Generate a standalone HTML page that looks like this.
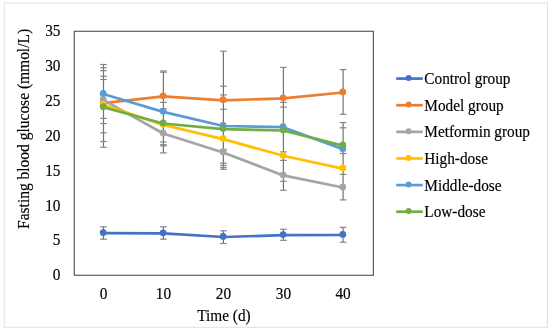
<!DOCTYPE html><html><head><meta charset="utf-8"><style>html,body{margin:0;padding:0;background:#fff;}svg{display:block;}text{stroke:#000;stroke-width:0.15px;}</style></head><body>
<svg width="550" height="332" viewBox="0 0 550 332" font-family='"Liberation Serif", "Times New Roman", serif' font-size="15.3" fill="#000">
<rect x="0" y="0" width="550" height="332" fill="#fff"/>
<rect x="4.2" y="2.9" width="543.2" height="324.4" fill="none" stroke="#e0e0e0" stroke-width="1"/>
<rect x="74.3" y="31.3" width="299.1" height="244" fill="none" stroke="#5e5e5e" stroke-width="1.2"/>
<text transform="translate(60.5,280.2) scale(1,1.05)" text-anchor="end">0</text>
<text transform="translate(60.5,245.3) scale(1,1.05)" text-anchor="end">5</text>
<text transform="translate(60.5,210.5) scale(1,1.05)" text-anchor="end">10</text>
<text transform="translate(60.5,175.6) scale(1,1.05)" text-anchor="end">15</text>
<text transform="translate(60.5,140.8) scale(1,1.05)" text-anchor="end">20</text>
<text transform="translate(60.5,105.9) scale(1,1.05)" text-anchor="end">25</text>
<text transform="translate(60.5,71.1) scale(1,1.05)" text-anchor="end">30</text>
<text transform="translate(60.5,36.2) scale(1,1.05)" text-anchor="end">35</text>
<text transform="translate(103.5,299.2) scale(1,1.05)" text-anchor="middle">0</text>
<text transform="translate(163.4,299.2) scale(1,1.05)" text-anchor="middle">10</text>
<text transform="translate(223.4,299.2) scale(1,1.05)" text-anchor="middle">20</text>
<text transform="translate(283.4,299.2) scale(1,1.05)" text-anchor="middle">30</text>
<text transform="translate(343.1,299.2) scale(1,1.05)" text-anchor="middle">40</text>
<text transform="translate(224.0,320.6) scale(1,1.05)" text-anchor="middle">Time (d)</text>
<text transform="translate(28.8,128.9) rotate(-90) scale(1,1.05)" text-anchor="middle" font-size="15.5">Fasting blood glucose (mmol/L)</text>
<g stroke="#727272" stroke-width="1.2" fill="none">
<line x1="103.5" y1="64.5" x2="103.5" y2="147.3"/>
<line x1="103.5" y1="226.8" x2="103.5" y2="239.2"/>
<line x1="100.2" y1="64.5" x2="106.8" y2="64.5" stroke="#858585"/>
<line x1="100.2" y1="67.8" x2="106.8" y2="67.8" stroke="#858585"/>
<line x1="100.2" y1="70.6" x2="106.8" y2="70.6" stroke="#858585"/>
<line x1="100.2" y1="76.3" x2="106.8" y2="76.3" stroke="#858585"/>
<line x1="100.2" y1="79.5" x2="106.8" y2="79.5" stroke="#858585"/>
<line x1="100.2" y1="118.4" x2="106.8" y2="118.4" stroke="#858585"/>
<line x1="100.2" y1="123.6" x2="106.8" y2="123.6" stroke="#858585"/>
<line x1="100.2" y1="132.8" x2="106.8" y2="132.8" stroke="#858585"/>
<line x1="100.2" y1="141.5" x2="106.8" y2="141.5" stroke="#858585"/>
<line x1="100.2" y1="147.3" x2="106.8" y2="147.3" stroke="#858585"/>
<line x1="100.2" y1="226.8" x2="106.8" y2="226.8" stroke="#858585"/>
<line x1="100.2" y1="239.2" x2="106.8" y2="239.2" stroke="#858585"/>
<line x1="163.4" y1="71.0" x2="163.4" y2="152.9"/>
<line x1="163.4" y1="226.8" x2="163.4" y2="239.2"/>
<line x1="160.1" y1="71.0" x2="166.7" y2="71.0" stroke="#858585"/>
<line x1="160.1" y1="72.2" x2="166.7" y2="72.2" stroke="#858585"/>
<line x1="160.1" y1="102.4" x2="166.7" y2="102.4" stroke="#858585"/>
<line x1="160.1" y1="108.7" x2="166.7" y2="108.7" stroke="#858585"/>
<line x1="160.1" y1="142.0" x2="166.7" y2="142.0" stroke="#858585"/>
<line x1="160.1" y1="144.7" x2="166.7" y2="144.7" stroke="#858585"/>
<line x1="160.1" y1="145.9" x2="166.7" y2="145.9" stroke="#858585"/>
<line x1="160.1" y1="152.9" x2="166.7" y2="152.9" stroke="#858585"/>
<line x1="160.1" y1="226.8" x2="166.7" y2="226.8" stroke="#858585"/>
<line x1="160.1" y1="239.2" x2="166.7" y2="239.2" stroke="#858585"/>
<line x1="223.4" y1="51.2" x2="223.4" y2="169.3"/>
<line x1="223.4" y1="230.8" x2="223.4" y2="243.5"/>
<line x1="220.1" y1="51.2" x2="226.7" y2="51.2" stroke="#858585"/>
<line x1="220.1" y1="86.2" x2="226.7" y2="86.2" stroke="#858585"/>
<line x1="220.1" y1="94.9" x2="226.7" y2="94.9" stroke="#858585"/>
<line x1="220.1" y1="109.3" x2="226.7" y2="109.3" stroke="#858585"/>
<line x1="220.1" y1="149.4" x2="226.7" y2="149.4" stroke="#858585"/>
<line x1="220.1" y1="163.1" x2="226.7" y2="163.1" stroke="#858585"/>
<line x1="220.1" y1="165.3" x2="226.7" y2="165.3" stroke="#858585"/>
<line x1="220.1" y1="167.5" x2="226.7" y2="167.5" stroke="#858585"/>
<line x1="220.1" y1="169.3" x2="226.7" y2="169.3" stroke="#858585"/>
<line x1="220.1" y1="230.8" x2="226.7" y2="230.8" stroke="#858585"/>
<line x1="220.1" y1="243.5" x2="226.7" y2="243.5" stroke="#858585"/>
<line x1="283.4" y1="67.4" x2="283.4" y2="190.3"/>
<line x1="283.4" y1="229.2" x2="283.4" y2="240.3"/>
<line x1="280.1" y1="67.4" x2="286.7" y2="67.4" stroke="#858585"/>
<line x1="280.1" y1="102.4" x2="286.7" y2="102.4" stroke="#858585"/>
<line x1="280.1" y1="107.1" x2="286.7" y2="107.1" stroke="#858585"/>
<line x1="280.1" y1="151.9" x2="286.7" y2="151.9" stroke="#858585"/>
<line x1="280.1" y1="160.4" x2="286.7" y2="160.4" stroke="#858585"/>
<line x1="280.1" y1="181.3" x2="286.7" y2="181.3" stroke="#858585"/>
<line x1="280.1" y1="190.3" x2="286.7" y2="190.3" stroke="#858585"/>
<line x1="280.1" y1="229.2" x2="286.7" y2="229.2" stroke="#858585"/>
<line x1="280.1" y1="240.3" x2="286.7" y2="240.3" stroke="#858585"/>
<line x1="343.1" y1="69.6" x2="343.1" y2="114.2"/>
<line x1="343.1" y1="122.6" x2="343.1" y2="199.8"/>
<line x1="343.1" y1="227.3" x2="343.1" y2="242.2"/>
<line x1="339.8" y1="69.6" x2="346.4" y2="69.6" stroke="#858585"/>
<line x1="339.8" y1="114.3" x2="346.4" y2="114.3" stroke="#858585"/>
<line x1="339.8" y1="122.5" x2="346.4" y2="122.5" stroke="#858585"/>
<line x1="339.8" y1="127.8" x2="346.4" y2="127.8" stroke="#858585"/>
<line x1="339.8" y1="153.5" x2="346.4" y2="153.5" stroke="#858585"/>
<line x1="339.8" y1="174.4" x2="346.4" y2="174.4" stroke="#858585"/>
<line x1="339.8" y1="199.9" x2="346.4" y2="199.9" stroke="#858585"/>
<line x1="339.8" y1="227.3" x2="346.4" y2="227.3" stroke="#858585"/>
<line x1="339.8" y1="242.2" x2="346.4" y2="242.2" stroke="#858585"/>
</g>
<polyline points="103.3,233.2 163.2,233.4 223.2,237.0 283.2,235.2 342.9,235.0" fill="none" stroke="#4472C4" stroke-width="2.7" stroke-linejoin="round" stroke-linecap="round"/>
<circle cx="103.2" cy="232.6" r="3.4" fill="#4472C4"/>
<circle cx="163.1" cy="232.8" r="3.4" fill="#4472C4"/>
<circle cx="223.1" cy="236.4" r="3.4" fill="#4472C4"/>
<circle cx="283.1" cy="234.6" r="3.4" fill="#4472C4"/>
<circle cx="342.8" cy="234.4" r="3.4" fill="#4472C4"/>
<polyline points="103.3,103.1 163.2,96.4 223.2,100.3 283.2,98.4 342.9,92.5" fill="none" stroke="#ED7D31" stroke-width="2.7" stroke-linejoin="round" stroke-linecap="round"/>
<circle cx="103.2" cy="102.5" r="3.4" fill="#ED7D31"/>
<circle cx="163.1" cy="95.8" r="3.4" fill="#ED7D31"/>
<circle cx="223.1" cy="99.7" r="3.4" fill="#ED7D31"/>
<circle cx="283.1" cy="97.8" r="3.4" fill="#ED7D31"/>
<circle cx="342.8" cy="91.9" r="3.4" fill="#ED7D31"/>
<polyline points="103.3,99.9 163.2,133.5 223.2,152.5 283.2,175.4 342.9,187.5" fill="none" stroke="#A5A5A5" stroke-width="2.7" stroke-linejoin="round" stroke-linecap="round"/>
<circle cx="103.2" cy="99.3" r="3.4" fill="#A5A5A5"/>
<circle cx="163.1" cy="132.9" r="3.4" fill="#A5A5A5"/>
<circle cx="223.1" cy="151.9" r="3.4" fill="#A5A5A5"/>
<circle cx="283.1" cy="174.8" r="3.4" fill="#A5A5A5"/>
<circle cx="342.8" cy="186.9" r="3.4" fill="#A5A5A5"/>
<polyline points="103.3,104.7 163.2,124.9 223.2,139.1 283.2,155.8 342.9,168.6" fill="none" stroke="#FFC000" stroke-width="2.7" stroke-linejoin="round" stroke-linecap="round"/>
<circle cx="103.2" cy="104.1" r="3.4" fill="#FFC000"/>
<circle cx="163.1" cy="124.3" r="3.4" fill="#FFC000"/>
<circle cx="223.1" cy="138.5" r="3.4" fill="#FFC000"/>
<circle cx="283.1" cy="155.2" r="3.4" fill="#FFC000"/>
<circle cx="342.8" cy="168.0" r="3.4" fill="#FFC000"/>
<polyline points="103.3,94.0 163.2,111.9 223.2,126.0 283.2,127.2 342.9,149.3" fill="none" stroke="#5B9BD5" stroke-width="2.7" stroke-linejoin="round" stroke-linecap="round"/>
<circle cx="103.2" cy="93.4" r="3.4" fill="#5B9BD5"/>
<circle cx="163.1" cy="111.3" r="3.4" fill="#5B9BD5"/>
<circle cx="223.1" cy="125.4" r="3.4" fill="#5B9BD5"/>
<circle cx="283.1" cy="126.6" r="3.4" fill="#5B9BD5"/>
<circle cx="342.8" cy="148.7" r="3.4" fill="#5B9BD5"/>
<polyline points="103.3,107.3 163.2,123.5 223.2,129.2 283.2,130.5 342.9,145.6" fill="none" stroke="#70AD47" stroke-width="2.7" stroke-linejoin="round" stroke-linecap="round"/>
<circle cx="103.2" cy="106.7" r="3.4" fill="#70AD47"/>
<circle cx="163.1" cy="122.9" r="3.4" fill="#70AD47"/>
<circle cx="223.1" cy="128.6" r="3.4" fill="#70AD47"/>
<circle cx="283.1" cy="129.9" r="3.4" fill="#70AD47"/>
<circle cx="342.8" cy="145.0" r="3.4" fill="#70AD47"/>
<line x1="396.2" y1="78.6" x2="422.8" y2="78.6" stroke="#4472C4" stroke-width="2.7"/>
<circle cx="408.6" cy="78.0" r="3.0" fill="#4472C4"/>
<text transform="translate(424.3,84.2) scale(1,1.05)">Control group</text>
<line x1="396.2" y1="105.22" x2="422.8" y2="105.22" stroke="#ED7D31" stroke-width="2.7"/>
<circle cx="408.6" cy="104.6" r="3.0" fill="#ED7D31"/>
<text transform="translate(424.3,110.8) scale(1,1.05)">Model group</text>
<line x1="396.2" y1="131.84" x2="422.8" y2="131.84" stroke="#A5A5A5" stroke-width="2.7"/>
<circle cx="408.6" cy="131.2" r="3.0" fill="#A5A5A5"/>
<text transform="translate(424.3,137.4) scale(1,1.05)">Metformin group</text>
<line x1="396.2" y1="158.46" x2="422.8" y2="158.46" stroke="#FFC000" stroke-width="2.7"/>
<circle cx="408.6" cy="157.9" r="3.0" fill="#FFC000"/>
<text transform="translate(424.3,164.1) scale(1,1.05)">High-dose</text>
<line x1="396.2" y1="185.08" x2="422.8" y2="185.08" stroke="#5B9BD5" stroke-width="2.7"/>
<circle cx="408.6" cy="184.5" r="3.0" fill="#5B9BD5"/>
<text transform="translate(424.3,190.7) scale(1,1.05)">Middle-dose</text>
<line x1="396.2" y1="211.7" x2="422.8" y2="211.7" stroke="#70AD47" stroke-width="2.7"/>
<circle cx="408.6" cy="211.1" r="3.0" fill="#70AD47"/>
<text transform="translate(424.3,217.3) scale(1,1.05)">Low-dose</text>
</svg></body></html>
